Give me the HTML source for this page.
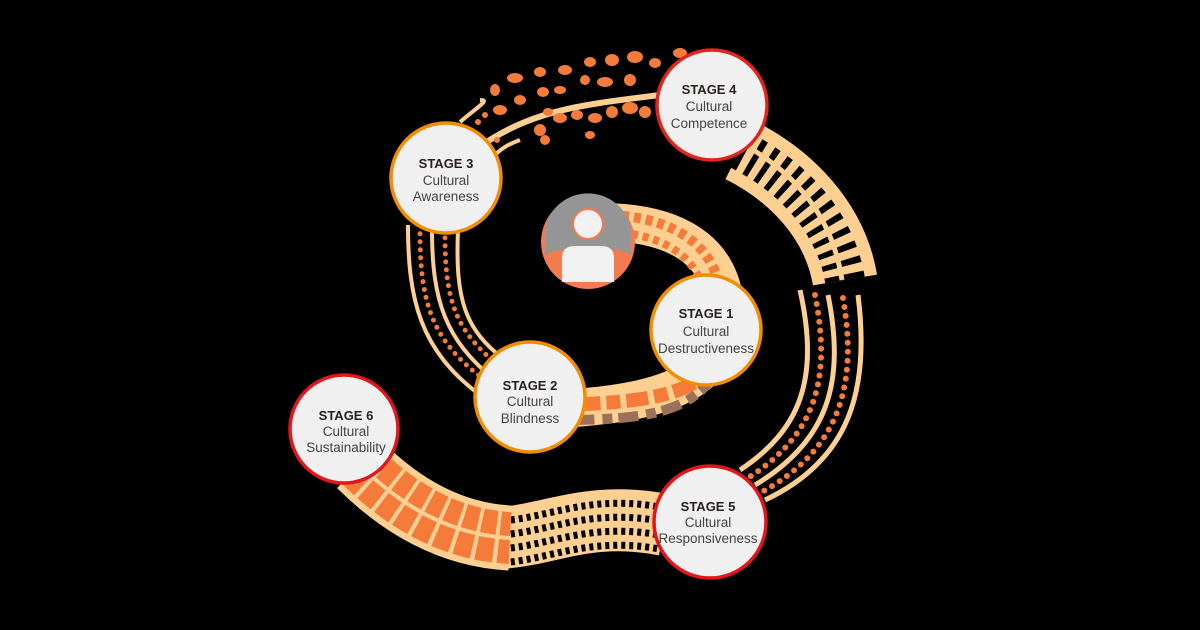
<!DOCTYPE html>
<html><head><meta charset="utf-8"><style>
html,body{margin:0;padding:0;background:#000;}
svg{display:block}
text{font-family:"Liberation Sans",Arial,sans-serif;text-anchor:middle;fill:#444}
.t{font-weight:bold;font-size:13px;fill:#2a2020}
.s{font-size:13.5px}
</style></head><body>
<svg width="1200" height="630" viewBox="0 0 1200 630">
<rect width="1200" height="630" fill="#000"/>
<!-- inner band person->stage1->stage2 -->
<path d="M600,222 C685,222 728,258 725,320 C720,390 650,405 540,410" fill="none" stroke="#fdd092" stroke-width="38"/>
<path d="M610,215 C685,218 725,255 722,315" fill="none" stroke="#f47b3a" stroke-width="10" stroke-dasharray="7 5"/>
<path d="M610,232 C672,234 708,265 706,315" fill="none" stroke="#f47b3a" stroke-width="8" stroke-dasharray="6 5"/>
<path d="M720,345 C712,395 650,402 560,405" fill="none" stroke="#f47b3a" stroke-width="14" stroke-dasharray="22 6 14 6"/>
<path d="M722,360 C700,412 650,420 560,420" fill="none" stroke="#9c7159" stroke-width="10" stroke-dasharray="10 8 20 6"/>
<!-- stage2 -> stage3 lines -->
<g fill="none" stroke="#fdd092" stroke-width="4">
<path d="M480,395 C420,350 408,300 408,225"/>
<path d="M495,380 C445,340 432,300 432,230"/>
<path d="M505,360 C465,330 455,300 458,230"/>
</g>
<g fill="none" stroke="#f47b3a" stroke-width="5" stroke-linecap="round" stroke-dasharray="0 8">
<path d="M485,380 C430,340 420,300 420,230"/>
<path d="M498,365 C455,330 445,300 445,235"/>
</g>
<!-- stage3 -> stage4 -->
<path d="M475,150 C530,110 580,105 660,95" fill="none" stroke="#fdd092" stroke-width="6"/>
<path d="M460,122 C480,105 490,100 480,100" fill="none" stroke="#fdd092" stroke-width="4"/>
<path d="M495,155 C505,145 515,142 520,140" fill="none" stroke="#fdd092" stroke-width="4"/>
<g fill="#f47b3a">
<ellipse cx="495" cy="90" rx="5" ry="6"/><ellipse cx="515" cy="78" rx="8" ry="5"/><ellipse cx="540" cy="72" rx="6" ry="5"/><ellipse cx="565" cy="70" rx="7" ry="5"/><ellipse cx="590" cy="62" rx="6" ry="5"/><ellipse cx="612" cy="60" rx="7" ry="6"/><ellipse cx="635" cy="57" rx="8" ry="6"/><ellipse cx="655" cy="63" rx="6" ry="5"/><ellipse cx="680" cy="53" rx="7" ry="5"/>
<ellipse cx="500" cy="110" rx="7" ry="5"/><ellipse cx="520" cy="100" rx="6" ry="5"/><ellipse cx="543" cy="92" rx="6" ry="5"/><ellipse cx="560" cy="90" rx="6" ry="4"/><ellipse cx="585" cy="80" rx="5" ry="5"/><ellipse cx="605" cy="82" rx="8" ry="5"/><ellipse cx="630" cy="80" rx="6" ry="6"/>
<ellipse cx="540" cy="130" rx="6" ry="6"/><ellipse cx="560" cy="118" rx="7" ry="5"/><ellipse cx="548" cy="112" rx="5" ry="4"/><ellipse cx="577" cy="115" rx="6" ry="5"/><ellipse cx="595" cy="118" rx="7" ry="5"/><ellipse cx="612" cy="112" rx="6" ry="6"/><ellipse cx="630" cy="108" rx="8" ry="6"/><ellipse cx="645" cy="112" rx="6" ry="6"/><ellipse cx="590" cy="135" rx="5" ry="4"/><ellipse cx="545" cy="140" rx="5" ry="5"/>
<circle cx="485" cy="115" r="3"/><circle cx="478" cy="122" r="3"/><circle cx="497" cy="140" r="3"/>
</g>
<!-- stage4 -> stage5 ladder band -->
<path d="M740,150 C790,175 835,220 845,280" fill="none" stroke="#fdd092" stroke-width="65"/>
<path d="M740,150 C790,175 835,220 845,280" fill="none" stroke="#000" stroke-width="40" stroke-dasharray="6 8"/>
<path d="M750,148 C795,175 832,215 842,280" fill="none" stroke="#fdd092" stroke-width="5"/>
<!-- lines + dots down to stage5 -->
<g fill="none" stroke="#fdd092" stroke-width="5">
<path d="M800,290 C820,380 800,430 740,470"/>
<path d="M828,295 C845,380 830,440 755,485"/>
<path d="M858,295 C870,390 850,460 765,500"/>
</g>
<g fill="none" stroke="#f47b3a" stroke-width="6" stroke-linecap="round" stroke-dasharray="0 9">
<path d="M815,295 C832,380 815,435 748,478"/>
<path d="M843,298 C858,385 840,450 760,493"/>
</g>
<!-- stage5 -> stage6 zigzag band -->
<path d="M665,525 C590,510 550,535 500,538" fill="none" stroke="#fdd092" stroke-width="62"/>
<g fill="none" stroke="#000" stroke-width="7" stroke-dasharray="4 4">
<path d="M665,508 C590,493 550,518 500,521"/>
<path d="M665,522 C590,507 550,532 500,535"/>
<path d="M665,536 C590,521 550,546 500,549"/>
<path d="M665,550 C590,535 550,560 500,563"/>
</g>
<path d="M360,465 C400,505 450,535 510,538" fill="none" stroke="#fdd092" stroke-width="65"/>
<path d="M360,465 C400,505 450,535 510,538" fill="none" stroke="#f47b3a" stroke-width="52" stroke-dasharray="16 4"/>
<path d="M360,465 C400,505 450,535 510,538" fill="none" stroke="#fdd092" stroke-width="4"/>
<!-- person -->
<circle cx="588" cy="242" r="47" fill="#f47b50"/>
<path d="M545,228 A44,44 0 0 1 631,228 L631,255 C620,245 560,245 545,255 Z" fill="#959595"/>
<circle cx="588" cy="224" r="15" fill="#f1f1f1" stroke="#f47b50" stroke-width="2"/>
<path d="M562,282 L562,258 Q562,246 575,246 L601,246 Q614,246 614,258 L614,282 Z" fill="#f1f1f1"/>
<!-- stages -->
<g stroke-width="3.5" fill="#f0f0f0">
<circle cx="706" cy="330" r="55" stroke="#f28c00"/>
<circle cx="530" cy="397" r="55" stroke="#f28c00"/>
<circle cx="446" cy="178" r="55" stroke="#f28c00"/>
<circle cx="712" cy="105" r="55" stroke="#e3241b"/>
<circle cx="710" cy="522" r="56" stroke="#e3141b"/>
<circle cx="344" cy="429" r="54" stroke="#e3141b"/>
</g>
<text x="706" y="318" class="t">STAGE 1</text><text x="706" y="336" class="s">Cultural</text><text x="706" y="353" class="s">Destructiveness</text>
<text x="530" y="390" class="t">STAGE 2</text><text x="530" y="406" class="s">Cultural</text><text x="530" y="423" class="s">Blindness</text>
<text x="446" y="168" class="t">STAGE 3</text><text x="446" y="185" class="s">Cultural</text><text x="446" y="201" class="s">Awareness</text>
<text x="709" y="94" class="t">STAGE 4</text><text x="709" y="111" class="s">Cultural</text><text x="709" y="128" class="s">Competence</text>
<text x="708" y="511" class="t">STAGE 5</text><text x="708" y="527" class="s">Cultural</text><text x="708" y="543" class="s">Responsiveness</text>
<text x="346" y="420" class="t">STAGE 6</text><text x="346" y="436" class="s">Cultural</text><text x="346" y="452" class="s">Sustainability</text>
</svg>
</body></html>
